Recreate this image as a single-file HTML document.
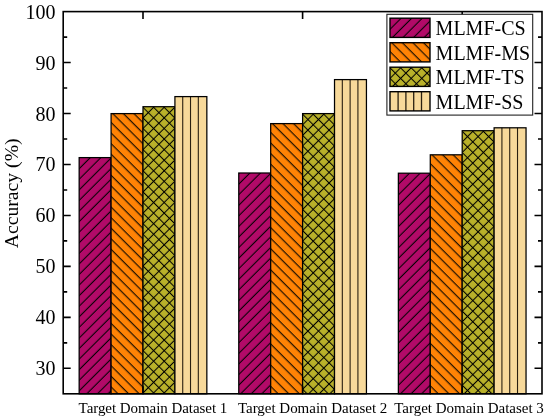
<!DOCTYPE html>
<html><head><meta charset="utf-8"><style>
html,body{margin:0;padding:0;background:#fff;width:550px;height:418px;overflow:hidden}
svg{display:block}
text{font-family:"Liberation Serif", "Times New Roman", serif;fill:#000}
</style></head><body>
<svg width="550" height="418" viewBox="0 0 550 418">
<defs>

<pattern id="pm" patternUnits="userSpaceOnUse" width="7.480" height="7.480" patternTransform="rotate(45)"><rect width="7.480" height="7.480" fill="#b20a68"/><line x1="-7.111" y1="-1" x2="-7.111" y2="8.480" stroke="#000" stroke-width="1.05"/><line x1="0.369" y1="-1" x2="0.369" y2="8.480" stroke="#000" stroke-width="1.05"/><line x1="7.849" y1="-1" x2="7.849" y2="8.480" stroke="#000" stroke-width="1.05"/></pattern>
<pattern id="po" patternUnits="userSpaceOnUse" width="7.480" height="7.480" patternTransform="rotate(-45)"><rect width="7.480" height="7.480" fill="#ff8305"/><line x1="-6.278" y1="-1" x2="-6.278" y2="8.480" stroke="#000" stroke-width="1.05"/><line x1="1.202" y1="-1" x2="1.202" y2="8.480" stroke="#000" stroke-width="1.05"/><line x1="8.682" y1="-1" x2="8.682" y2="8.480" stroke="#000" stroke-width="1.05"/></pattern>
<pattern id="pt" patternUnits="userSpaceOnUse" width="7.480" height="7.480" patternTransform="rotate(45)"><rect width="7.480" height="7.480" fill="#b9b12a"/><line x1="-7.040" y1="-1" x2="-7.040" y2="8.480" stroke="#000" stroke-width="1.05"/><line x1="0.440" y1="-1" x2="0.440" y2="8.480" stroke="#000" stroke-width="1.05"/><line x1="7.920" y1="-1" x2="7.920" y2="8.480" stroke="#000" stroke-width="1.05"/><line x1="-1" y1="-7.056" x2="8.480" y2="-7.056" stroke="#000" stroke-width="1.05"/><line x1="-1" y1="0.424" x2="8.480" y2="0.424" stroke="#000" stroke-width="1.05"/><line x1="-1" y1="7.904" x2="8.480" y2="7.904" stroke="#000" stroke-width="1.05"/></pattern>
<pattern id="ps" patternUnits="userSpaceOnUse" width="7.700" height="10"><rect width="7.700" height="10" fill="#f7d99a"/><line x1="-7.700" y1="-1" x2="-7.700" y2="11.000" stroke="#5a4a30" stroke-width="1.10"/><line x1="0.000" y1="-1" x2="0.000" y2="11.000" stroke="#5a4a30" stroke-width="1.10"/><line x1="7.700" y1="-1" x2="7.700" y2="11.000" stroke="#5a4a30" stroke-width="1.10"/></pattern>

</defs>
<rect x="0" y="0" width="550" height="418" fill="#fff"/>
<g transform="translate(79.16,157.60)"><rect x="0" y="0" width="31.92" height="236.20" fill="url(#pm)" stroke="#000" stroke-width="1.25"/></g>
<g transform="translate(111.08,113.60)"><rect x="0" y="0" width="31.92" height="280.20" fill="url(#po)" stroke="#000" stroke-width="1.25"/></g>
<g transform="translate(143.00,106.70)"><rect x="0" y="0" width="31.92" height="287.10" fill="url(#pt)" stroke="#000" stroke-width="1.25"/></g>
<g transform="translate(174.92,96.60)"><rect x="0" y="0" width="31.92" height="297.20" fill="#f7d99a"/><line x1="7.80" y1="0" x2="7.80" y2="297.20" stroke="#2a2010" stroke-width="1.10"/><line x1="15.60" y1="0" x2="15.60" y2="297.20" stroke="#2a2010" stroke-width="1.10"/><line x1="23.40" y1="0" x2="23.40" y2="297.20" stroke="#2a2010" stroke-width="1.10"/><rect x="0" y="0" width="31.92" height="297.20" fill="none" stroke="#000" stroke-width="1.25"/></g>
<g transform="translate(238.76,173.00)"><rect x="0" y="0" width="31.92" height="220.80" fill="url(#pm)" stroke="#000" stroke-width="1.25"/></g>
<g transform="translate(270.68,123.60)"><rect x="0" y="0" width="31.92" height="270.20" fill="url(#po)" stroke="#000" stroke-width="1.25"/></g>
<g transform="translate(302.60,113.60)"><rect x="0" y="0" width="31.92" height="280.20" fill="url(#pt)" stroke="#000" stroke-width="1.25"/></g>
<g transform="translate(334.52,79.60)"><rect x="0" y="0" width="31.92" height="314.20" fill="#f7d99a"/><line x1="7.80" y1="0" x2="7.80" y2="314.20" stroke="#2a2010" stroke-width="1.10"/><line x1="15.60" y1="0" x2="15.60" y2="314.20" stroke="#2a2010" stroke-width="1.10"/><line x1="23.40" y1="0" x2="23.40" y2="314.20" stroke="#2a2010" stroke-width="1.10"/><rect x="0" y="0" width="31.92" height="314.20" fill="none" stroke="#000" stroke-width="1.25"/></g>
<g transform="translate(398.36,173.20)"><rect x="0" y="0" width="31.92" height="220.60" fill="url(#pm)" stroke="#000" stroke-width="1.25"/></g>
<g transform="translate(430.28,154.80)"><rect x="0" y="0" width="31.92" height="239.00" fill="url(#po)" stroke="#000" stroke-width="1.25"/></g>
<g transform="translate(462.20,130.70)"><rect x="0" y="0" width="31.92" height="263.10" fill="url(#pt)" stroke="#000" stroke-width="1.25"/></g>
<g transform="translate(494.12,127.80)"><rect x="0" y="0" width="31.92" height="266.00" fill="#f7d99a"/><line x1="7.80" y1="0" x2="7.80" y2="266.00" stroke="#2a2010" stroke-width="1.10"/><line x1="15.60" y1="0" x2="15.60" y2="266.00" stroke="#2a2010" stroke-width="1.10"/><line x1="23.40" y1="0" x2="23.40" y2="266.00" stroke="#2a2010" stroke-width="1.10"/><rect x="0" y="0" width="31.92" height="266.00" fill="none" stroke="#000" stroke-width="1.25"/></g>
<rect x="63.20" y="11.60" width="478.80" height="382.20" fill="none" stroke="#000" stroke-width="1.6"/>
<path d="M63.20 368.32H70.70M542.00 368.32H534.50M63.20 342.84H67.20M542.00 342.84H538.00M63.20 317.36H70.70M542.00 317.36H534.50M63.20 291.88H67.20M542.00 291.88H538.00M63.20 266.40H70.70M542.00 266.40H534.50M63.20 240.92H67.20M542.00 240.92H538.00M63.20 215.44H70.70M542.00 215.44H534.50M63.20 189.96H67.20M542.00 189.96H538.00M63.20 164.48H70.70M542.00 164.48H534.50M63.20 139.00H67.20M542.00 139.00H538.00M63.20 113.52H70.70M542.00 113.52H534.50M63.20 88.04H67.20M542.00 88.04H538.00M63.20 62.56H70.70M542.00 62.56H534.50M63.20 37.08H67.20M542.00 37.08H538.00M143.00 11.60V19.10M143.00 393.80V386.30M302.60 11.60V19.10M302.60 393.80V386.30M462.20 11.60V19.10M462.20 393.80V386.30" stroke="#000" stroke-width="1.6" fill="none"/>
<text x="55.4" y="375.32" font-size="20" text-anchor="end">30</text>
<text x="55.4" y="324.36" font-size="20" text-anchor="end">40</text>
<text x="55.4" y="273.40" font-size="20" text-anchor="end">50</text>
<text x="55.4" y="222.44" font-size="20" text-anchor="end">60</text>
<text x="55.4" y="171.48" font-size="20" text-anchor="end">70</text>
<text x="55.4" y="120.52" font-size="20" text-anchor="end">80</text>
<text x="55.4" y="69.56" font-size="20" text-anchor="end">90</text>
<text x="55.4" y="18.60" font-size="20" text-anchor="end">100</text>
<text x="78.6" y="412.7" font-size="15" textLength="148.6" lengthAdjust="spacing">Target Domain Dataset 1</text>
<text x="237.9" y="412.7" font-size="15" textLength="149.4" lengthAdjust="spacing">Target Domain Dataset 2</text>
<text x="394.2" y="412.7" font-size="15" textLength="149.6" lengthAdjust="spacing">Target Domain Dataset 3</text>
<text transform="translate(18.2,193.3) rotate(-90)" font-size="19.7" text-anchor="middle">Accuracy (%)</text>
<rect x="386.9" y="14.3" width="145.8" height="100.8" fill="#fff" stroke="#222" stroke-width="1.1"/>
<g transform="translate(390,18.20)"><rect x="0" y="0" width="40" height="19.2" fill="url(#pm)" stroke="#000" stroke-width="1.4"/></g>
<text x="435.6" y="35.40" font-size="20">MLMF-CS</text>
<g transform="translate(390,42.70)"><rect x="0" y="0" width="40" height="19.2" fill="url(#po)" stroke="#000" stroke-width="1.4"/></g>
<text x="435.6" y="59.90" font-size="20">MLMF-MS</text>
<g transform="translate(390,67.20)"><rect x="0" y="0" width="40" height="19.2" fill="url(#pt)" stroke="#000" stroke-width="1.4"/></g>
<text x="435.6" y="84.40" font-size="20">MLMF-TS</text>
<g transform="translate(390,91.70)"><rect x="0" y="0" width="40" height="19.2" fill="#f7d99a"/><line x1="8.10" y1="0" x2="8.10" y2="19.2" stroke="#2a2010" stroke-width="1.30"/><line x1="15.90" y1="0" x2="15.90" y2="19.2" stroke="#2a2010" stroke-width="1.30"/><line x1="23.70" y1="0" x2="23.70" y2="19.2" stroke="#2a2010" stroke-width="1.30"/><line x1="31.50" y1="0" x2="31.50" y2="19.2" stroke="#2a2010" stroke-width="1.30"/><rect x="0" y="0" width="40" height="19.2" fill="none" stroke="#000" stroke-width="1.4"/></g>
<text x="435.6" y="108.90" font-size="20">MLMF-SS</text>
</svg>
</body></html>
